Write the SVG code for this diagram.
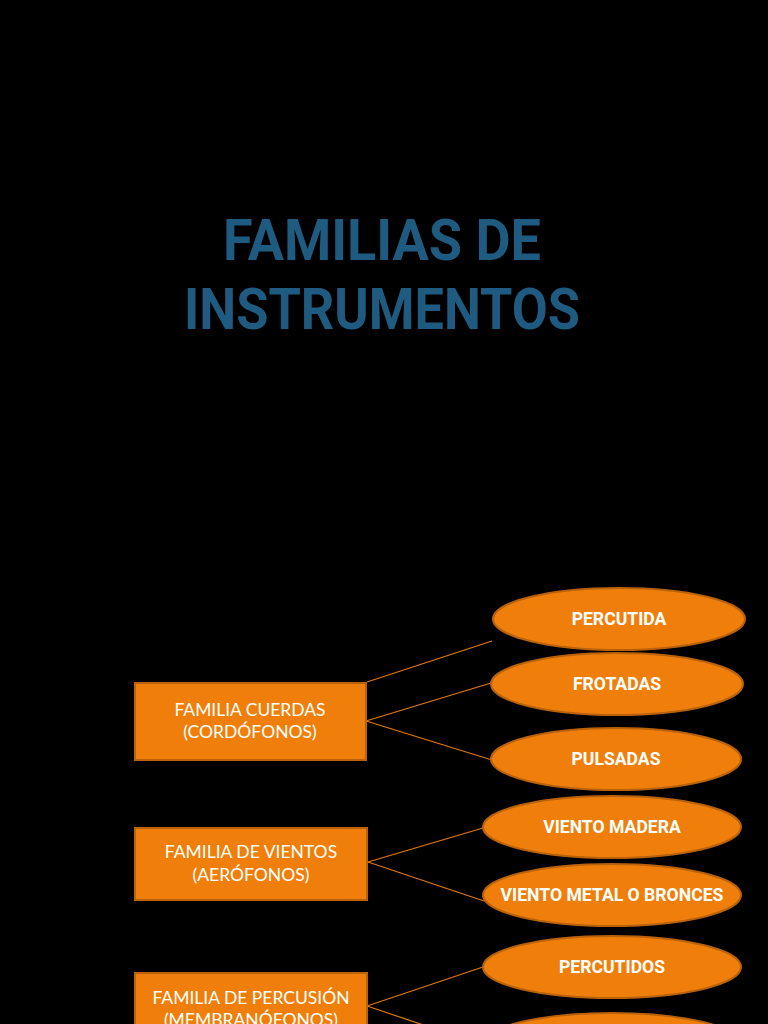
<svg xmlns="http://www.w3.org/2000/svg" width="768" height="1024" viewBox="0 0 768 1024">
<style>
.title{font-family:"Roboto","DejaVu Sans",sans-serif;font-weight:700;font-size:57px;fill:#1F5B80;text-anchor:middle}
.box{fill:#EF7F0A;stroke:#B9620B;stroke-width:2}
.btxt{font-family:"Lato","Liberation Sans",sans-serif;font-weight:400;font-size:17.5px;fill:#FFFFFF;text-anchor:middle}
.ell{fill:#EF7F0A;stroke:#B9620B;stroke-width:2}
.etxt{font-family:"Roboto","Liberation Sans",sans-serif;font-weight:700;font-size:17.6px;fill:#FFFFFF;text-anchor:middle}
.con line{stroke:#E07A0C;stroke-width:1.2}
</style>
<rect x="0" y="0" width="768" height="1024" fill="#000000"/>
<g id="title">
<text class="title" x="382" y="260" textLength="318" lengthAdjust="spacingAndGlyphs">FAMILIAS DE</text>
<text class="title" x="382" y="329" textLength="396" lengthAdjust="spacingAndGlyphs">INSTRUMENTOS</text>
</g>
<g id="connectors" class="con">
<line x1="367" y1="682" x2="492" y2="641"/>
<line x1="366" y1="721" x2="491" y2="683"/>
<line x1="366" y1="721" x2="492" y2="760"/>
<line x1="368" y1="862" x2="483" y2="828"/>
<line x1="368" y1="862" x2="484" y2="901"/>
<line x1="367" y1="1006" x2="483" y2="967"/>
<line x1="367" y1="1006" x2="483" y2="1045"/>
</g>
<g id="cuerdas">
<rect class="box" x="135" y="683" width="231" height="77"/>
<text class="btxt" x="250" y="716" textLength="151" lengthAdjust="spacingAndGlyphs">FAMILIA CUERDAS</text>
<text class="btxt" x="250" y="738">(CORDÓFONOS)</text>
</g>
<g id="vientos">
<rect class="box" x="135" y="828" width="232" height="72"/>
<text class="btxt" x="251" y="858">FAMILIA DE VIENTOS</text>
<text class="btxt" x="251" y="881">(AERÓFONOS)</text>
</g>
<g id="percusion">
<rect class="box" x="135" y="973" width="232" height="72"/>
<text class="btxt" x="251" y="1004">FAMILIA DE PERCUSIÓN</text>
<text class="btxt" x="251" y="1026">(MEMBRANÓFONOS)</text>
</g>
<g id="percutida">
<ellipse class="ell" cx="619" cy="619" rx="126" ry="31"/>
<text class="etxt" x="619" y="625">PERCUTIDA</text>
</g>
<g id="frotadas">
<ellipse class="ell" cx="617" cy="684" rx="126" ry="31"/>
<text class="etxt" x="617" y="690">FROTADAS</text>
</g>
<g id="pulsadas">
<ellipse class="ell" cx="616" cy="759" rx="125" ry="31"/>
<text class="etxt" x="616" y="765">PULSADAS</text>
</g>
<g id="viento-madera">
<ellipse class="ell" cx="612" cy="827" rx="129" ry="31"/>
<text class="etxt" x="612" y="833">VIENTO MADERA</text>
</g>
<g id="viento-metal">
<ellipse class="ell" cx="612" cy="895" rx="129" ry="31"/>
<text class="etxt" x="612" y="901">VIENTO METAL O BRONCES</text>
</g>
<g id="percutidos">
<ellipse class="ell" cx="612" cy="967" rx="129" ry="31"/>
<text class="etxt" x="612" y="973">PERCUTIDOS</text>
</g>
<g id="node-7">
<ellipse class="ell" cx="612" cy="1044" rx="129" ry="31"/>
</g>
</svg>
